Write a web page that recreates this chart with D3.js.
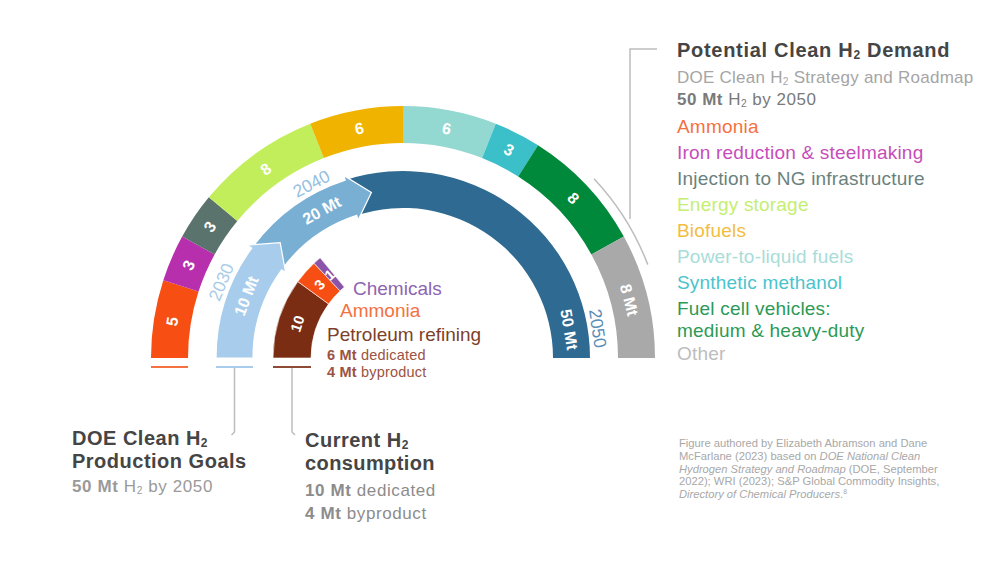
<!DOCTYPE html>
<html>
<head>
<meta charset="utf-8">
<script src="https://cdn.jsdelivr.net/npm/d3@7"></script>
<style>
  body { margin: 0; background: #fff; }
  svg { display: block; font-family: "Liberation Sans", Arial, Helvetica, sans-serif; }
</style>
</head>
<body>
<div id="chart"></div>
<script>
// Data
const demandCats = ["Ammonia", "Iron reduction & steelmaking", "Injection to NG infrastructure",
  "Energy storage", "Biofuels", "Power-to-liquid fuels", "Synthetic methanol",
  "Fuel cell vehicles:|medium & heavy-duty", "Other"];
const demandValues = [5, 3, 3, 8, 6, 6, 3, 8, 8];
const demandLabels = ["5", "3", "3", "8", "6", "6", "3", "8", "8 Mt"];
const demandColors = ["#f74e14", "#b72fac", "#5b736d", "#c3ee5b", "#f0b400", "#94d8d2", "#3bbfc8", "#00883b", "#a9a9a9"];
const demandTextColors = ["#f5713f", "#c64dba", "#6a827d", "#c5ee72", "#f2bd3d", "#a8ddd8", "#4bc3cc", "#2b9a56", "#bdbdbd"];

const goalYears = ["2030", "2040", "2050"];
const goalValues = [10, 20, 50];           // cumulative Mt
const goalLabels = ["10 Mt", "20 Mt", "50 Mt"];
const goalColors = ["#a8cdec", "#7aafd4", "#2e6a91"];
const yearColors = ["#a8cce8", "#94bedf", "#5a8db6"];

const currentCats = ["Petroleum refining", "Ammonia", "Chemicals"];
const currentValues = [10, 3, 1];
const currentColors = ["#7a2d12", "#f74e14", "#8a55a8"];
const currentTextColors = ["#7d3f2a", "#f5713f", "#8e64b0"];

const W = 1000, H = 561;
const cx = 403, cy = 358;
const total = 50;

const svg = d3.select("#chart").append("svg")
    .attr("width", W)
    .attr("height", H);

// angle scale: 0 Mt on the left, 50 Mt on the right
const ang = d3.scaleLinear().domain([0, total]).range([-Math.PI / 2, Math.PI / 2]);
const deg = a => a * 180 / Math.PI;

const g = svg.append("g").attr("transform", `translate(${cx},${cy})`);

function ringLabel(v, r, txt, opts) {
  const a = ang(v);
  g.append("text")
      .attr("transform", `translate(${r * Math.sin(a)},${-r * Math.cos(a)}) rotate(${deg(a)})`)
      .attr("text-anchor", "middle")
      .attr("dominant-baseline", "central")
      .attr("fill", opts.fill || "#fff")
      .attr("font-size", opts.size)
      .attr("font-weight", opts.weight || "bold")
      .text(txt);
}

// Outer ring: potential clean H2 demand
const outer = { r0: 215, r1: 252 };
const demandStarts = d3.cumsum([0, ...demandValues]);
const arcOuter = d3.arc().innerRadius(outer.r0).outerRadius(outer.r1);
demandValues.forEach((v, i) => {
  g.append("path")
      .attr("d", arcOuter({ startAngle: ang(demandStarts[i]), endAngle: ang(demandStarts[i] + v) }))
      .attr("fill", demandColors[i]);
});
demandValues.forEach((v, i) => {
  ringLabel(demandStarts[i] + v / 2, (outer.r0 + outer.r1) / 2, demandLabels[i], { size: 16 });
});

// Middle ring: production goals (chevron arrows)
const mid = { r0: 150, r1: 187 };
const tipLen = 2;     // arrow tip length in Mt
const headOut = 5;    // arrow head overhang in px
function arrowPath(v0, v1, head) {
  const p = d3.path();
  const a0 = ang(v0) - Math.PI / 2, a1 = ang(v1) - Math.PI / 2;
  p.arc(0, 0, mid.r1, a0, a1);
  if (head) {
    const at = ang(v1 + tipLen) - Math.PI / 2, rm = (mid.r0 + mid.r1) / 2;
    p.lineTo((mid.r1 + headOut) * Math.cos(a1), (mid.r1 + headOut) * Math.sin(a1));
    p.lineTo(rm * Math.cos(at), rm * Math.sin(at));
    p.lineTo((mid.r0 - headOut) * Math.cos(a1), (mid.r0 - headOut) * Math.sin(a1));
  }
  p.arc(0, 0, mid.r0, a1, a0, true);
  p.closePath();
  return p.toString();
}
for (let i = goalValues.length - 1; i >= 0; i--) {
  const v0 = i === 0 ? 0 : goalValues[i - 1];
  const head = i < goalValues.length - 1;
  g.append("path")
      .attr("d", arrowPath(v0, goalValues[i], head))
      .attr("fill", goalColors[i])
      .attr("stroke", head ? "#fff" : "none")
      .attr("stroke-width", 1.2);
}
goalValues.forEach((v, i) => {
  const v0 = i === 0 ? 0 : goalValues[i - 1] + tipLen;
  const at = i < goalValues.length - 1 ? (v0 + v + tipLen) / 2 : v - 2.7;
  ringLabel(at, (mid.r0 + mid.r1) / 2, goalLabels[i], { size: 16 });
  ringLabel(at + 0.3, 197, goalYears[i], { size: 17.5, weight: "normal", fill: yearColors[i] });
});

// Inner ring: current consumption
const inner = { r0: 92, r1: 130 };
const curStarts = d3.cumsum([0, ...currentValues]);
const arcInner = d3.arc().innerRadius(inner.r0).outerRadius(inner.r1);
currentValues.forEach((v, i) => {
  g.append("path")
      .attr("d", arcInner({ startAngle: ang(curStarts[i]), endAngle: ang(curStarts[i] + v) }))
      .attr("fill", currentColors[i])
      .attr("stroke", "#fff")
      .attr("stroke-width", 0.6);
  ringLabel(curStarts[i] + v / 2, (inner.r0 + inner.r1) / 2, String(v), { size: 14.5 });
});

// Foot lines under each ring
const feet = [[outer, demandTextColors[0]], [mid, goalColors[0]], [inner, "#8d4a35"]];
feet.forEach(([r, c]) => {
  g.append("line")
      .attr("x1", -r.r1).attr("x2", -r.r0)
      .attr("y1", 9).attr("y2", 9)
      .attr("stroke", c).attr("stroke-width", 2);
});

// Connectors
const gray = "#bdbdbd";
const xMid = cx - (mid.r0 + mid.r1) / 2, xIn = cx - (inner.r0 + inner.r1) / 2;
svg.append("path").attr("d", `M${xMid},368V432L${xMid - 3},435`)
    .attr("fill", "none").attr("stroke", gray).attr("stroke-width", 1.5);
svg.append("path").attr("d", `M${xIn},368V432L${xIn + 3},435`)
    .attr("fill", "none").attr("stroke", gray).attr("stroke-width", 1.5);
svg.append("path").attr("d", "M657,49H630V219")
    .attr("fill", "none").attr("stroke", gray).attr("stroke-width", 1.5);
g.append("path")
    .attr("d", d3.arc().innerRadius(262).outerRadius(262)({ startAngle: ang(38), endAngle: ang(44.2) }))
    .attr("fill", "none").attr("stroke", gray).attr("stroke-width", 1.5);

// Text helper: parts = [{t, b, sub, sup, i}]
function rich(x, y, parts, opts) {
  const t = svg.append("text")
      .attr("x", x).attr("y", y)
      .attr("font-size", opts.size)
      .attr("fill", opts.fill)
      .attr("letter-spacing", opts.ls || 0)
      .attr("font-weight", opts.weight || "normal");
  let shift = 0;
  parts.forEach(p => {
    const s = t.append("tspan").text(p.t);
    if (p.b) s.attr("font-weight", "bold");
    if (p.i) s.attr("font-style", "italic");
    const want = p.sub ? opts.size * 0.12 : (p.sup ? -opts.size * 0.35 : 0);
    if (want !== shift) { s.attr("dy", want - shift); shift = want; }
    if (p.sub || p.sup) s.attr("font-size", opts.size * 0.6);
  });
  return t;
}

// Legend: potential demand
rich(677, 57, [{ t: "Potential Clean H" }, { t: "2", sub: true }, { t: " Demand" }], { size: 20, fill: "#454545", weight: "bold", ls: 0.7 });
rich(677, 83, [{ t: "DOE Clean H" }, { t: "2", sub: true }, { t: " Strategy and Roadmap" }], { size: 17, fill: "#a5a5a5", ls: 0.25 });
rich(677, 105, [{ t: "50 Mt", b: true }, { t: " H" }, { t: "2", sub: true }, { t: " by 2050" }], { size: 17, fill: "#7a7a7a", ls: 0.5 });
let ly = 133;
demandCats.forEach((c, i) => {
  c.split("|").forEach((line, j) => {
    if (j > 0) ly += 22;
    rich(677, ly, [{ t: line }], { size: 19, fill: demandTextColors[i], ls: 0.2 });
  });
  ly += (i === demandCats.length - 2) ? 23 : 26;
});

// Labels for current consumption
const curLabelY = [341, 317, 295];
const curLabelX = [327, 340, 353];
currentCats.forEach((c, i) => {
  rich(curLabelX[i], curLabelY[i], [{ t: c }], { size: 19, fill: currentTextColors[i] });
});
rich(327, 360, [{ t: "6 Mt", b: true }, { t: " dedicated" }], { size: 14.5, fill: "#9c5341", ls: 0.2 });
rich(327, 377, [{ t: "4 Mt", b: true }, { t: " byproduct" }], { size: 14.5, fill: "#9c5341", ls: 0.2 });

// Bottom titles
rich(72, 445, [{ t: "DOE Clean H" }, { t: "2", sub: true }], { size: 20, fill: "#454545", weight: "bold", ls: 0.5 });
rich(72, 468, [{ t: "Production Goals" }], { size: 20, fill: "#454545", weight: "bold", ls: 0.5 });
rich(72, 492, [{ t: "50 Mt", b: true }, { t: " H" }, { t: "2", sub: true }, { t: " by 2050" }], { size: 17, fill: "#9a9a9a", ls: 0.6 });

rich(305, 447, [{ t: "Current H" }, { t: "2", sub: true }], { size: 20, fill: "#454545", weight: "bold", ls: 0.5 });
rich(305, 470, [{ t: "consumption" }], { size: 20, fill: "#454545", weight: "bold", ls: 0.4 });
rich(305, 496, [{ t: "10 Mt", b: true }, { t: " dedicated" }], { size: 17, fill: "#8c8c8c", ls: 0.6 });
rich(305, 519, [{ t: "4 Mt", b: true }, { t: " byproduct" }], { size: 17, fill: "#8c8c8c", ls: 0.6 });

// Source note
const note = [
  [{ t: "Figure authored by Elizabeth Abramson and Dane" }],
  [{ t: "McFarlane (2023) based on " }, { t: "DOE National Clean", i: true }],
  [{ t: "Hydrogen Strategy and Roadmap", i: true }, { t: " (DOE, September" }],
  [{ t: "2022); WRI (2023); S&P Global Commodity Insights," }],
  [{ t: "Directory of Chemical Producers", i: true }, { t: "." }, { t: "8", sup: true }]
];
note.forEach((parts, i) => {
  rich(679, 447 + i * 12.8, parts, { size: 11.2, fill: "#a8a8a8" });
});
</script>
</body>
</html>
